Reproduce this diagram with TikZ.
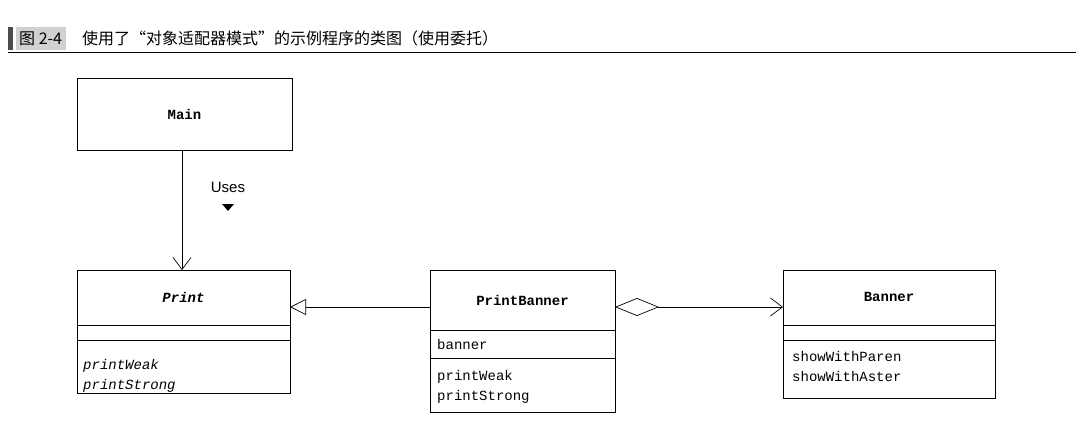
\documentclass[tikz,border=0pt]{standalone}
\usepackage{fontspec}
\setmainfont{Liberation Sans}
\setmonofont{Liberation Mono}
\newfontfamily\cjk{Noto Sans CJK SC}
\usetikzlibrary{arrows.meta,shapes.geometric}
\begin{document}
\begin{tikzpicture}[x=1pt,y=-1pt,
  box/.style={draw,line width=0.7pt},
  mono/.style={font=\ttfamily\fontsize{14}{16}\selectfont,anchor=west,inner sep=0},
  monoit/.style={font=\ttfamily\itshape\fontsize{14}{16}\selectfont,anchor=west,inner sep=0},
  cname/.style={font=\ttfamily\bfseries\fontsize{14}{16}\selectfont,inner sep=0},
  conn/.style={line width=0.7pt}]
\useasboundingbox (0,0) rectangle (1084,431);
% header
\fill[black!70] (8,27) rectangle (13,50);
\fill[black!18] (16,27) rectangle (66,50);
\node[font=\cjk\fontsize{16}{18}\selectfont,anchor=west,inner sep=0] (fig) at (19,38.5) {图 2-4};
\node[font=\cjk\fontsize{16}{18}\selectfont,anchor=west,inner sep=0] (title) at (82,38.5) {使用了“对象适配器模式”的示例程序的类图（使用委托）};
\draw[line width=0.8pt] (8,52) -- (1076,52);
% Main
\draw[box] (77,78) rectangle (292,150);
\node[cname] (main) at (184.5,114) {Main};
\coordinate (mainb) at (182,150);
% Print
\draw[box] (77,270) rectangle (290,393);
\draw[box] (77,325) -- (290,325) (77,340) -- (290,340);
\node[cname,font=\ttfamily\bfseries\itshape\fontsize{14}{16}\selectfont] (print) at (183.5,297) {Print};
\node[monoit] (pw) at (83,366) {printWeak};
\node[monoit] (ps) at (83,386) {printStrong};
\coordinate (printt) at (182,270);
\coordinate (printr) at (290,307);
% PrintBanner
\draw[box] (430,270) rectangle (615,412);
\draw[box] (430,330) -- (615,330) (430,358) -- (615,358);
\node[cname] (pb) at (522.5,300) {PrintBanner};
\node[mono] (bf) at (437,344) {banner};
\node[mono] (pbw) at (437,377) {printWeak};
\node[mono] (pbs) at (437,397) {printStrong};
\coordinate (pbl) at (430,307);
\coordinate (pbr) at (615,307);
% Banner
\draw[box] (783,270) rectangle (995,398);
\draw[box] (783,325) -- (995,325) (783,340) -- (995,340);
\node[cname] (bn) at (889,297) {Banner};
\node[mono] (s1) at (792,356) {showWithParen};
\node[mono] (s2) at (792,376) {showWithAster};
\coordinate (bnl) at (783,307);
% connectors
\draw[conn,-{Straight Barb[length=12pt,width=18pt]}] (mainb) -- (printt);
\node[font=\fontsize{15}{17}\selectfont,inner sep=0] (uses) at (228,187) {Uses};
\fill (222,204) -- (234,204) -- (228,211) -- cycle;
\draw[conn,-{Triangle[open,length=16pt,width=16pt]}] (pbl) -- (printr);
\draw[conn,{Diamond[open,length=44pt,width=18pt]}-{Straight Barb[length=12pt,width=18pt]}] (pbr) -- (bnl);
\end{tikzpicture}
\end{document}
